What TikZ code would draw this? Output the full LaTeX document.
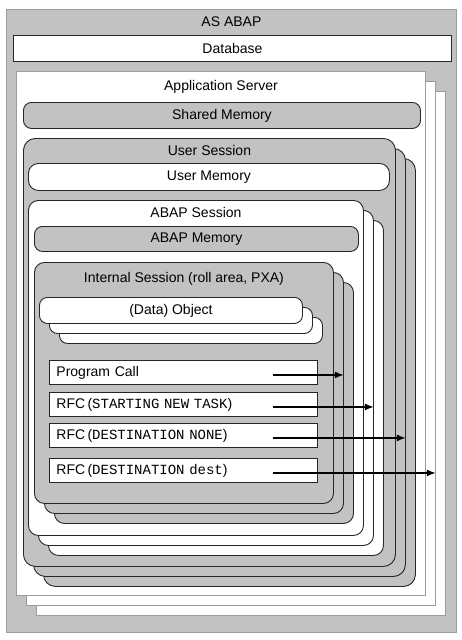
\documentclass[tikz,border=0pt]{standalone}
\usepackage{fontspec}
\setmainfont{Liberation Sans}
\setmonofont{Liberation Mono}
\usetikzlibrary{arrows.meta}

\definecolor{shade}{HTML}{C2C2C2}
\definecolor{rim}{HTML}{9C9C9C}

\begin{document}
\begin{tikzpicture}[x=1pt, y=-1pt, font=\fontsize{14}{16}\selectfont,
	box/.style={anchor=north west, inner sep=0pt, line width=0.9pt},
	flat/.style={box, fill=white, draw=black!85},
	pale/.style={box, fill=white, draw=rim},
	soft/.style={box, fill=white, draw=black!85, rounded corners=10pt},
	dark/.style={box, fill=shade, draw=black!85, rounded corners=10pt},
	title/.style={inner sep=1pt},
	call/.style={flat, minimum height=24pt, text width=254pt, inner xsep=7pt, align=left},
	jump/.style={line width=1.6pt, -{Latex[length=9pt, width=7pt]}}]
			\useasboundingbox (0,0) rectangle (461,640);
			
			\node[box, fill=shade, draw=rim, minimum width=450pt, minimum height=623pt] (asabap) at (6,9) {};
			\node[title, below=7pt] (astitle) at (asabap.north) {AS ABAP};
			\node[flat, minimum width=438pt, minimum height=26pt] (db) at (13,35) {Database};
			
			% application server, three copies
			\foreach \d in {20,10,0}
				\node[pale, minimum width=409pt, minimum height=524pt] (app\d) at (16+\d,71+\d) {};
			\node[title, below=8pt] (apptitle) at (app0.north) {Application Server};
			\node[dark, rounded corners=8pt, minimum width=397pt, minimum height=26pt] (shm) at (23,102) {Shared Memory};
			
			% user sessions
			\foreach \d in {20,10,0}
				\node[dark, rounded corners=12pt, minimum width=372pt, minimum height=428pt] (us\d) at (23+\d,138+\d) {};
			\node[title, below=6pt] (ustitle) at (us0.north) {User Session};
			\node[soft, minimum width=361pt, minimum height=27pt] (um) at (28,163) {User Memory};
			
			% ABAP sessions
			\foreach \d in {20,10,0}
				\node[soft, minimum width=335pt, minimum height=335pt] (ab\d) at (28+\d,200+\d) {};
			\node[title, below=6pt] (abtitle) at (ab0.north) {ABAP Session};
			\node[dark, rounded corners=8pt, minimum width=324pt, minimum height=25pt] (am) at (34,226) {ABAP Memory};
			
			% internal sessions
			\foreach \d in {20,10,0}
				\node[dark, minimum width=299pt, minimum height=241pt] (is\d) at (34+\d,262+\d) {};
			\node[title, below=9pt] (istitle) at (is0.north) {Internal Session (roll area, PXA)};
			
			\foreach \d in {20,10}
				\node[soft, rounded corners=8pt, minimum width=263pt, minimum height=26pt] (obj\d) at (39+\d,297+\d) {};
			\node[soft, rounded corners=8pt, minimum width=263pt, minimum height=26pt] (obj0) at (39,297) {(Data) Object};
			
			\node[call] (pc) at (49,360) {Program Call};
			\node[call] (task) at (49,392) {RFC\,(\texttt{STARTING NEW TASK})};
			\node[call] (none) at (49,423) {RFC\,(\texttt{DESTINATION NONE})};
			\node[call] (dest) at (49,458) {RFC\,(\texttt{DESTINATION dest})};
			
			\draw[jump] ([xshift=-45pt, yshift=-2.5pt]pc.east) -- ([yshift=-2.5pt]pc.east -| is10.east);
			\draw[jump] ([xshift=-45pt, yshift=-2.5pt]task.east) -- ([yshift=-2.5pt]task.east -| ab10.east);
			\draw[jump] ([xshift=-45pt, yshift=-2.5pt]none.east) -- ([yshift=-2.5pt]none.east -| us10.east);
			\draw[jump] ([xshift=-45pt, yshift=-2.5pt]dest.east) -- ([yshift=-2.5pt]dest.east -| app10.east);
		\end{tikzpicture}
\end{document}
